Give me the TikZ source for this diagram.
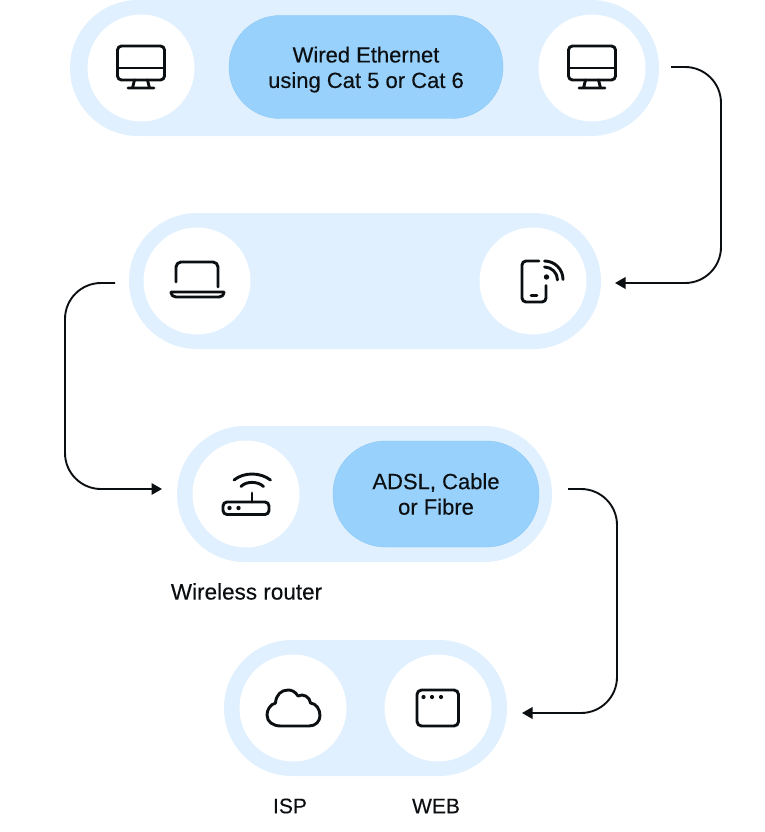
\documentclass[tikz,border=0pt]{standalone}
\usepackage{fontspec}
\setmainfont[FakeBold=0.25]{Liberation Sans}
\usetikzlibrary{arrows.meta}
\definecolor{bandc}{HTML}{E0F0FF}
\definecolor{pillc}{HTML}{98D1FB}
\definecolor{pilledge}{HTML}{8CC8F5}
\definecolor{inkc}{HTML}{0C0F12}
\tikzset{
  x=1pt,y=-1pt,
  band/.style={rectangle,rounded corners=67.9pt,fill=bandc,minimum height=136pt,inner sep=0pt},
  hole/.style={circle,fill=white,minimum size=107pt,inner sep=0pt},
  pill/.style={rectangle,fill=pillc,draw=pilledge,line width=.4pt,inner sep=0pt,align=center,font=\fontsize{22}{25.5}\selectfont,text=inkc},
  caption/.style={font=\fontsize{21}{25}\selectfont,text=inkc,inner sep=0pt},
  icon/.style={draw=inkc,line width=2.9pt,line cap=round,line join=round},
  flow/.style={draw=inkc,line width=1.9pt,rounded corners=36pt,-{Triangle[length=10.5pt,width=11.5pt]}},
  dotmark/.style={fill=inkc}
}
\begin{document}
\begin{tikzpicture}
\useasboundingbox (0,0) rectangle (765,832);
% bands
\node[band,minimum width=589pt] (b1) at (364.5,68) {};
\node[band,minimum width=472pt] (b2) at (365,281) {};
\node[band,minimum width=375pt] (b3) at (364.5,494) {};
\node[band,minimum width=283pt] (b4) at (365.5,708) {};
% holes
\node[hole] (h1) at (141,68) {};
\node[hole] (h2) at (592,68) {};
\node[hole] (h3) at (197,281) {};
\node[hole] (h4) at (533,281) {};
\node[hole] (h5) at (246,494) {};
\node[hole] (h6) at (293,708) {};
\node[hole] (h7) at (438,708) {};
% pills
\node[pill,minimum width=274pt,minimum height=103pt,rounded corners=51pt] (p1) at (366,67) {\rule{0pt}{21pt}Wired Ethernet\\using Cat 5 or Cat 6};
\node[pill,minimum width=206pt,minimum height=106pt,rounded corners=52.5pt] (p2) at (436,494) {ADSL, Cable\\or Fibre};
% monitors
\foreach \cx in {141,592}{
  \begin{scope}[shift={(\cx,68)}]
    \draw[icon,rounded corners=4pt] (-23.5,-22) rectangle (23.5,12);
    \draw[icon] (-23.5,0) -- (23.5,0);
    \draw[icon] (-6.5,12) -- (-8.5,20) (6.5,12) -- (8.5,20) (-13,20) -- (13,20);
  \end{scope}
}
% laptop
\draw[icon] (176,282) -- (176,267) arc[start angle=180,end angle=90,radius=5pt] -- (213,262) arc[start angle=90,end angle=0,radius=5pt] -- (218,287);
\draw[icon] (171,292) -- (224,292) -- (224,292.5) .. controls (224,295) and (222,297) .. (219,297) -- (176,297) .. controls (173,297) and (171,295) .. (171,292.5) -- cycle;
% phone
\draw[icon] (539,261) -- (526,261) arc[start angle=90,end angle=180,radius=4pt] -- (522,298) arc[start angle=180,end angle=270,radius=4pt] -- (542,302) arc[start angle=270,end angle=360,radius=4pt] -- (546,285.5);
\draw[icon] (531,295.5) -- (537,295.5);
\fill[dotmark] (546.5,277) circle (2.7pt);
\draw[icon] (544.5,267) arc[start angle=90,end angle=0,radius=13pt];
\draw[icon] (544.5,261) arc[start angle=90,end angle=0,radius=18.5pt];
% router
\draw[icon,rounded corners=4pt] (223,502) rectangle (269,514.5);
\draw[icon] (252,493) -- (252,502);
\fill[dotmark] (229.5,508) circle (2.2pt) (238.5,508) circle (2.2pt);
\draw[icon] (234,480) .. controls (244,472) and (260,472) .. (270.5,480);
\draw[icon] (241,486.5) .. controls (246,481) and (258,481) .. (263.5,486.5);
% cloud
\draw[icon] (281,726) -- (309,726) .. controls (316,726) and (320,721) .. (320,715.5)
  .. controls (320,709) and (316,703.5) .. (310.5,703)
  .. controls (310,697) and (303,693) .. (298,696)
  .. controls (295,691) and (291,690) .. (288,690)
  .. controls (281,690) and (276,695) .. (275.5,703)
  .. controls (270,704.5) and (267,710) .. (267,715)
  .. controls (267,722) and (273,726) .. (281,726) -- cycle;
% window
\draw[icon,rounded corners=4.5pt] (417,690) rectangle (458.5,726);
\fill[dotmark] (423.5,697) circle (2.1pt) (432,697) circle (2.1pt) (441,697) circle (2.1pt);
% captions
\node[caption,font=\fontsize{22.5}{25}\selectfont] (t1) at (246.5,591.5) {Wireless router};
\node[caption] (t2) at (290,806) {ISP};
\node[caption] (t3) at (436,806) {WEB};
% connectors
\coordinate (c1a) at (671,67);
\coordinate (c1b) at (615,283);
\coordinate (c2a) at (115,283);
\coordinate (c2b) at (162,489);
\coordinate (c3a) at (568,489);
\coordinate (c3b) at (522,713);
\draw[flow] (c1a) -- (721,67) -- (721,283) -- (c1b);
\draw[flow] (c2a) -- (65,283) -- (65,489) -- (c2b);
\draw[flow] (c3a) -- (617,489) -- (617,713) -- (c3b);
\end{tikzpicture}
\end{document}
